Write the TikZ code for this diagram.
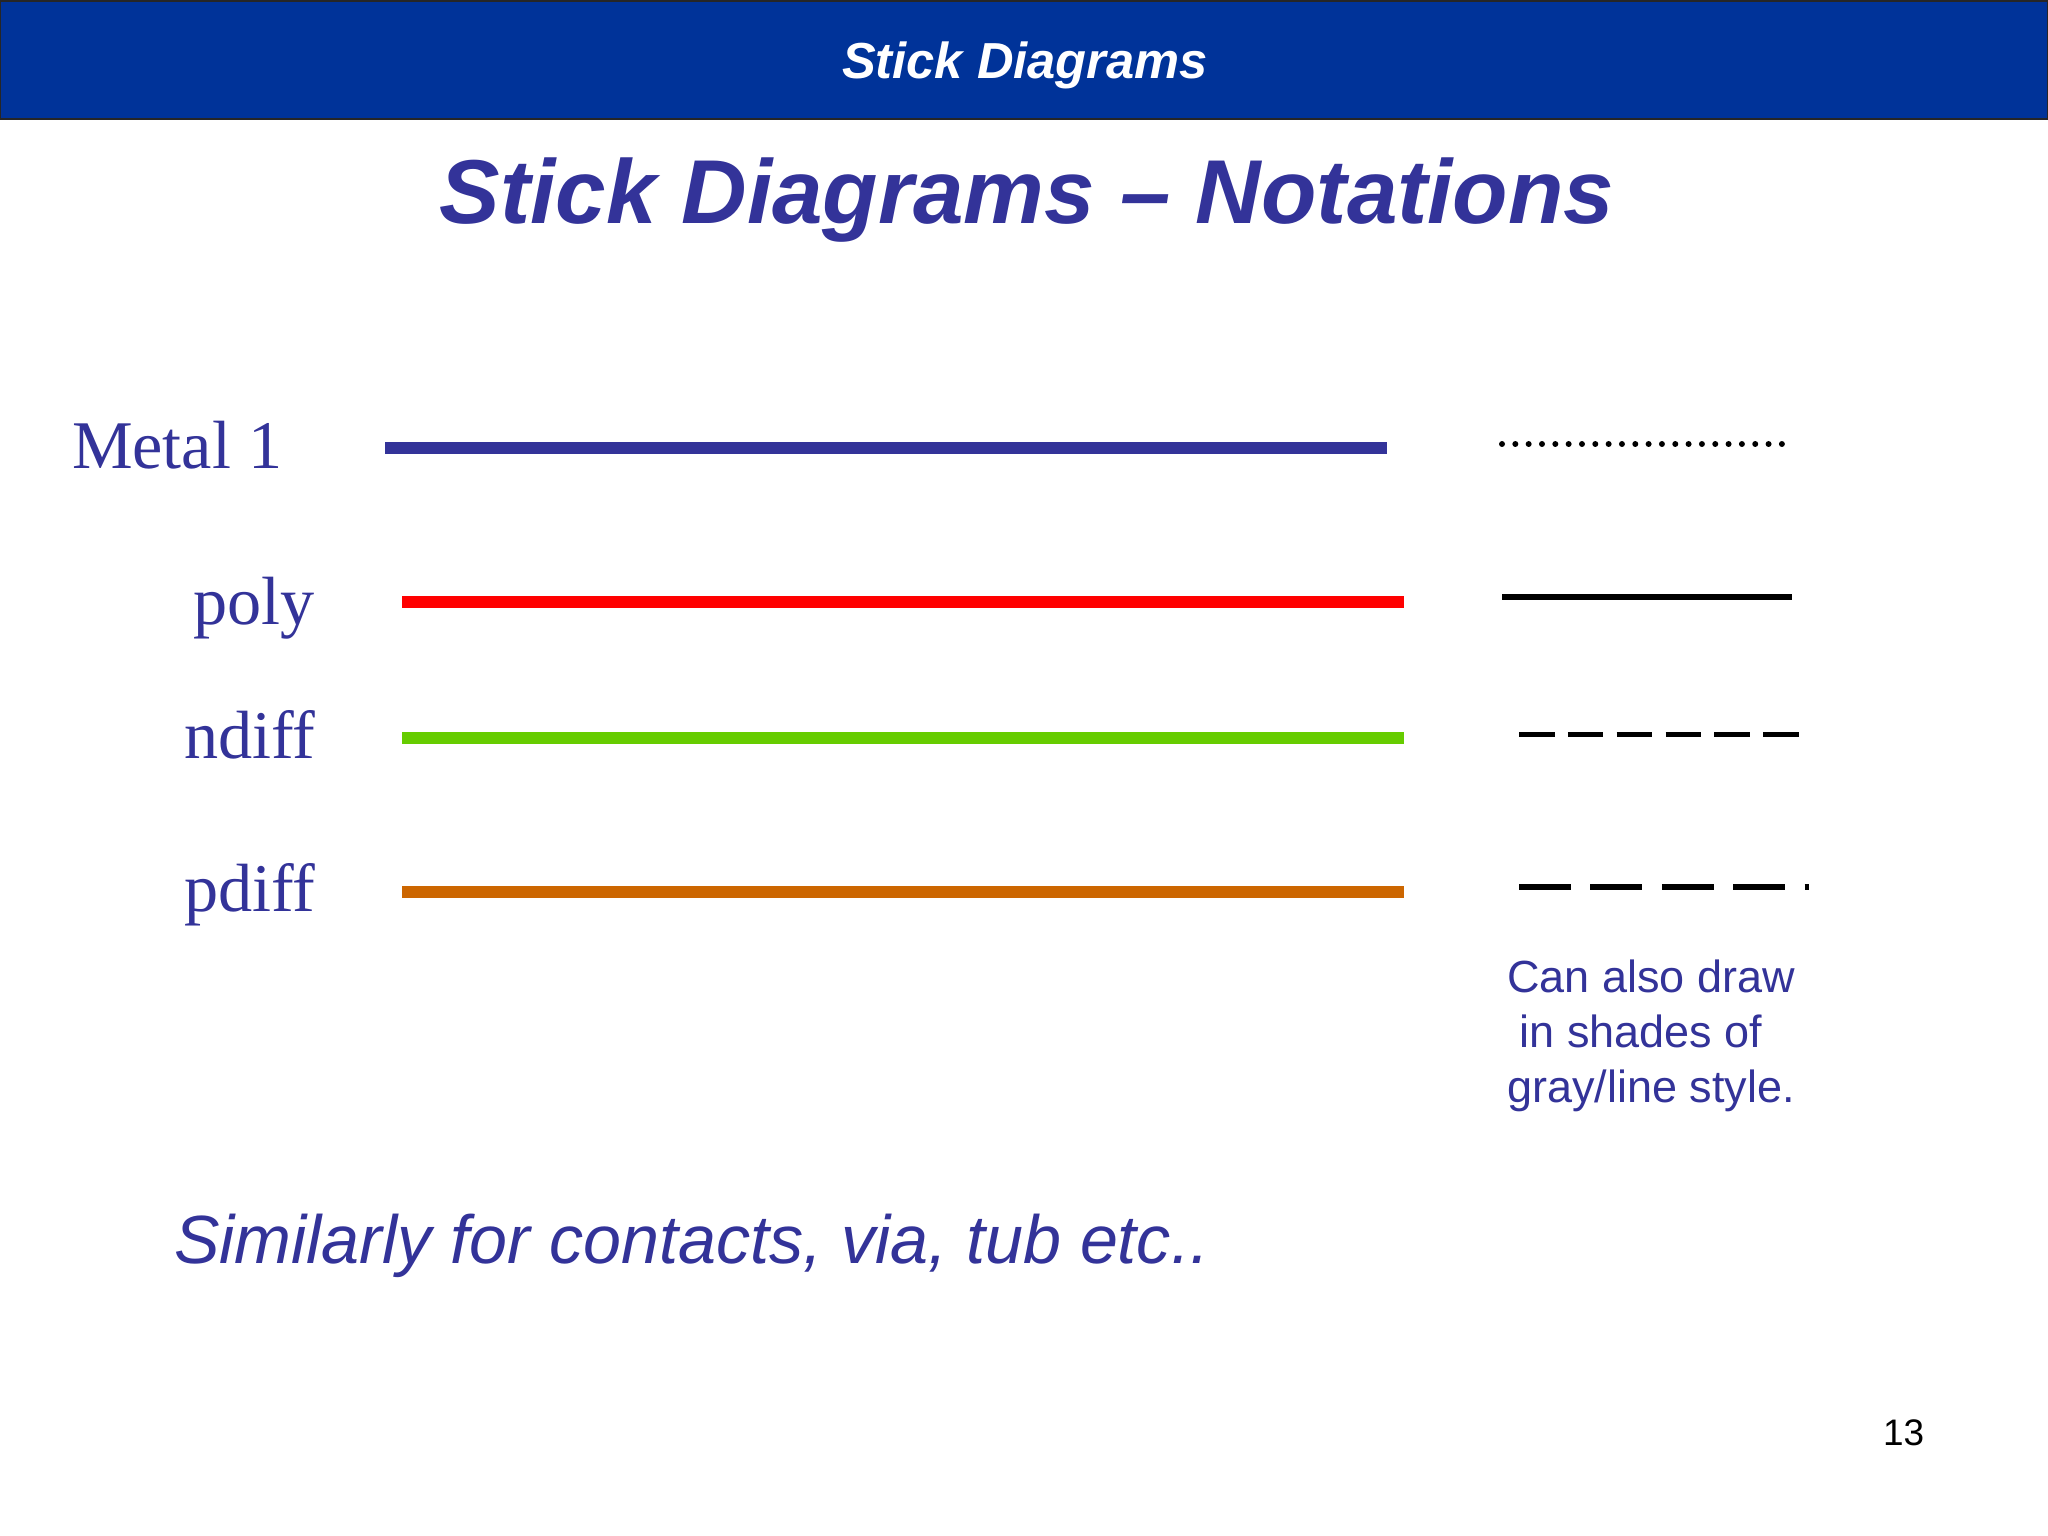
\documentclass[tikz,border=0pt]{standalone}
\usepackage{fontspec}
\setmainfont{Liberation Serif}
\setsansfont{Liberation Sans}
\definecolor{slideblue}{HTML}{003399}
\definecolor{textblue}{HTML}{333399}
\definecolor{metalcol}{HTML}{333399}
\definecolor{polycol}{HTML}{FF0000}
\definecolor{ndiffcol}{HTML}{66CC00}
\definecolor{pdiffcol}{HTML}{CC6600}

\begin{document}
\begin{tikzpicture}[x=0.01cm, y=-0.01cm,
      every node/.style = {inner sep=0pt, outer sep=0pt},
      layerline/.style = {line width=3.4pt},
      layername/.style = {anchor=base west, text=textblue,
        font=\fontsize{19.4}{23}\selectfont}]
  \useasboundingbox (0,0) rectangle (2048,1536);
  \fill[white] (0,0) rectangle (2048,1536);
  % title bar
  \draw[fill=slideblue, draw=black!85, line width=0.6pt] (0,1) rectangle (2048,119);
  \node (bar) at (1025,78) [anchor=base, text=white,
    font=\sffamily\bfseries\itshape\fontsize{14.4}{17}\selectfont] {Stick Diagrams};
  \node (title) at (1027,223) [anchor=base, text=textblue,
    font=\sffamily\bfseries\itshape\fontsize{25.8}{30}\selectfont] {Stick Diagrams -- Notations};
  % layers
  \node (metal) at (72,468) [layername] {Metal 1};
  \node (poly) at (193,624) [layername] {poly};
  \node (ndiff) at (184,758) [layername] {ndiff};
  \node (pdiff) at (184,911) [layername] {pdiff};
  \draw[layerline, metalcol] (385,448) -- (1387,448);
  \draw[layerline, polycol] (402,602) -- (1404,602);
  \draw[layerline, ndiffcol] (402,738) -- (1404,738);
  \draw[layerline, pdiffcol] (402,892) -- (1404,892);
  % line styles
  \draw[line width=1.7pt, line cap=round, dash pattern=on 0pt off 3.79pt] (1502,444) -- (1783,444);
  \draw[line width=1.85pt] (1502,597) -- (1792,597);
  \draw[line width=1.42pt, dash pattern=on 10.1pt off 3.79pt] (1519,734) -- (1799,734);
  \draw[line width=1.85pt, dash pattern=on 14.8pt off 5.5pt] (1519,887) -- (1809,887);
  \node (note) at (1507,960) [anchor=north west, align=left, text=textblue,
    font=\sffamily\fontsize{12.8}{15.65}\selectfont]
    {Can also draw\\\ in shades of\\gray/line style.};
  \node (similar) at (174,1263) [anchor=base west, text=textblue,
    font=\sffamily\itshape\fontsize{19.4}{23}\selectfont] {Similarly for contacts, via, tub etc..};
  \node (page) at (1883,1445) [anchor=base west,
    font=\sffamily\fontsize{10.5}{12}\selectfont] {13};
\end{tikzpicture}
\end{document}
